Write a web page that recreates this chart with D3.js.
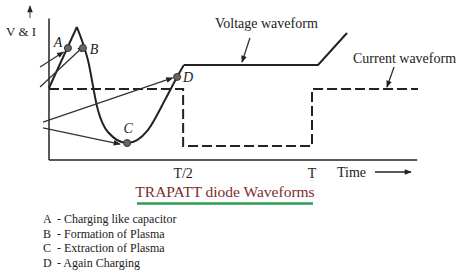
<!DOCTYPE html>
<html>
<head>
<meta charset="utf-8">
<script src="https://cdn.jsdelivr.net/npm/d3@7"></script>
<style>
  body { margin: 0; background: #fff; }
  text { font-family: "Liberation Serif", "Times New Roman", serif; fill: #222; }
</style>
</head>
<body>
<div id="chart"></div>
<script>
// time in periods (T = 1), amplitude in arbitrary units 0..100
const voltageT = [0, 0.106, 0.148, 0.186, 0.224, 0.297, 0.376, 0.441, 0.487, 0.513, 1.023, 1.133];
const voltageV = [51.4, 95, 71.4, 35.7, 20, 12.1, 21.4, 42.9, 59.3, 67.9, 67.9, 90.7];

const currentT = [0, 0.51, 0.51, 1, 1, 1.403];
const currentI = [50.7, 50.7, 10, 10, 50.7, 50.7];

const pointNames = ['A', 'B', 'C', 'D'];
const pointT = [0.072, 0.129, 0.297, 0.487];
const pointV = [80, 80, 12.1, 59.3];

// pointer arrows: from -> to
const arrowFromT = [-0.034, -0.034, -0.023, -0.023, 0.764, 1.312];
const arrowFromV = [66.4, 52.1, 22.9, 27.1, 87.1, 66.4];
const arrowToT = [0.055, 0.133, 0.27, 0.47, 0.734, 1.285];
const arrowToV = [77.1, 81.4, 11.4, 58.6, 70, 52.1];

const tickLabels = ['T/2', 'T'];
const tickT = [0.51, 1];

const legendKeys = ['A', 'B', 'C', 'D'];
const legendText = ['- Charging like capacitor', '- Formation of Plasma', '- Extraction of Plasma', '- Again Charging'];

var width = 474, height = 274;
var ink = '#222';

var x = d3.scaleLinear().domain([0, 1]).range([49, 312]);
var y = d3.scaleLinear().domain([0, 100]).range([160, 20]);

var svg = d3.select('#chart').append('svg')
  .attr('width', width)
  .attr('height', height);

svg.append('defs').append('marker')
  .attr('id', 'head')
  .attr('viewBox', '0 0 10 10')
  .attr('refX', 9).attr('refY', 5)
  .attr('markerWidth', 9).attr('markerHeight', 7)
  .attr('markerUnits', 'userSpaceOnUse')
  .attr('orient', 'auto')
  .append('path')
  .attr('d', 'M0,1 L10,5 L0,9 Z')
  .attr('fill', ink);

// axes
svg.append('line')
  .attr('x1', x(0)).attr('x2', x(0))
  .attr('y1', y(101)).attr('y2', y(0))
  .attr('stroke', ink).attr('stroke-width', 1.5);
svg.append('line')
  .attr('x1', x(0)).attr('x2', x(1.4))
  .attr('y1', y(0)).attr('y2', y(0))
  .attr('stroke', ink).attr('stroke-width', 1.5);

// V & I label with up arrow
svg.append('line')
  .attr('x1', 30).attr('x2', 30).attr('y1', 18).attr('y2', 6)
  .attr('stroke', '#444').attr('stroke-width', 1)
  .attr('marker-end', 'url(#head)');
svg.append('text')
  .attr('x', 6).attr('y', 36)
  .style('font-size', '13px')
  .text('V & I');

// tick labels
svg.selectAll('.tick-label')
  .data(tickLabels)
  .enter()
  .append('text')
  .attr('x', (d, i) => x(tickT[i]))
  .attr('y', 178)
  .attr('text-anchor', 'middle')
  .style('font-size', '14px')
  .text(d => d);

svg.append('text')
  .attr('x', 337).attr('y', 177)
  .style('font-size', '14px')
  .text('Time');
svg.append('line')
  .attr('x1', 375).attr('x2', 411).attr('y1', 172).attr('y2', 172)
  .attr('stroke', ink).attr('stroke-width', 1.3)
  .attr('marker-end', 'url(#head)');

// current waveform (dashed)
var currentData = currentT.map((t, i) => [t, currentI[i]]);
var straight = d3.line().x(d => x(d[0])).y(d => y(d[1]));
svg.append('path')
  .attr('d', straight(currentData))
  .attr('fill', 'none')
  .attr('stroke', ink)
  .attr('stroke-width', 2)
  .attr('stroke-dasharray', '10,4');

// voltage waveform: straight rise, smooth swing, then straight
var voltageData = voltageT.map((t, i) => [t, voltageV[i]]);
var smooth = d3.line().x(d => x(d[0])).y(d => y(d[1])).curve(d3.curveMonotoneX);
svg.append('path')
  .attr('d', straight(voltageData.slice(0, 2)))
  .attr('fill', 'none').attr('stroke', ink).attr('stroke-width', 2);
svg.append('path')
  .attr('d', smooth(voltageData.slice(1, 10)))
  .attr('fill', 'none').attr('stroke', ink).attr('stroke-width', 2);
svg.append('path')
  .attr('d', straight(voltageData.slice(9)))
  .attr('fill', 'none').attr('stroke', ink).attr('stroke-width', 2);

// pointer arrows
svg.selectAll('.pointer')
  .data(arrowFromT)
  .enter()
  .append('line')
  .attr('x1', (d, i) => x(d))
  .attr('y1', (d, i) => y(arrowFromV[i]))
  .attr('x2', (d, i) => x(arrowToT[i]))
  .attr('y2', (d, i) => y(arrowToV[i]))
  .attr('stroke', '#333')
  .attr('stroke-width', 1.3)
  .attr('marker-end', 'url(#head)');

// points A-D
svg.selectAll('.pt')
  .data(pointNames)
  .enter()
  .append('circle')
  .attr('cx', (d, i) => x(pointT[i]))
  .attr('cy', (d, i) => y(pointV[i]))
  .attr('r', 3.5)
  .attr('fill', '#666')
  .attr('stroke', '#333')
  .attr('stroke-width', 1);

var labelDx = [-10, 11, 1, 11];
var labelDy = [-1, 6, -10, 5];
svg.selectAll('.pt-label')
  .data(pointNames)
  .enter()
  .append('text')
  .attr('x', (d, i) => x(pointT[i]) + labelDx[i])
  .attr('y', (d, i) => y(pointV[i]) + labelDy[i])
  .attr('text-anchor', 'middle')
  .style('font-size', '14px')
  .style('font-style', 'italic')
  .text(d => d);

// waveform names
svg.append('text')
  .attr('x', 215).attr('y', 28)
  .style('font-size', '14px')
  .text('Voltage waveform');
svg.append('text')
  .attr('x', 353).attr('y', 63)
  .style('font-size', '14px')
  .text('Current waveform');

// title
svg.append('text')
  .attr('x', 225).attr('y', 197)
  .attr('text-anchor', 'middle')
  .style('font-size', '15.5px')
  .style('fill', '#7d2b2b')
  .text('TRAPATT diode Waveforms');
svg.append('line')
  .attr('x1', 137).attr('x2', 313).attr('y1', 203.5).attr('y2', 203.5)
  .attr('stroke', '#2f9a52').attr('stroke-width', 2.5);

// legend
svg.selectAll('.lg-key')
  .data(legendKeys)
  .enter()
  .append('text')
  .attr('x', 43)
  .attr('y', (d, i) => 223 + i * 14.5)
  .style('font-size', '12px')
  .text(d => d);
svg.selectAll('.lg-text')
  .data(legendText)
  .enter()
  .append('text')
  .attr('x', 57)
  .attr('y', (d, i) => 223 + i * 14.5)
  .style('font-size', '12px')
  .text(d => d);
</script>
</body>
</html>
